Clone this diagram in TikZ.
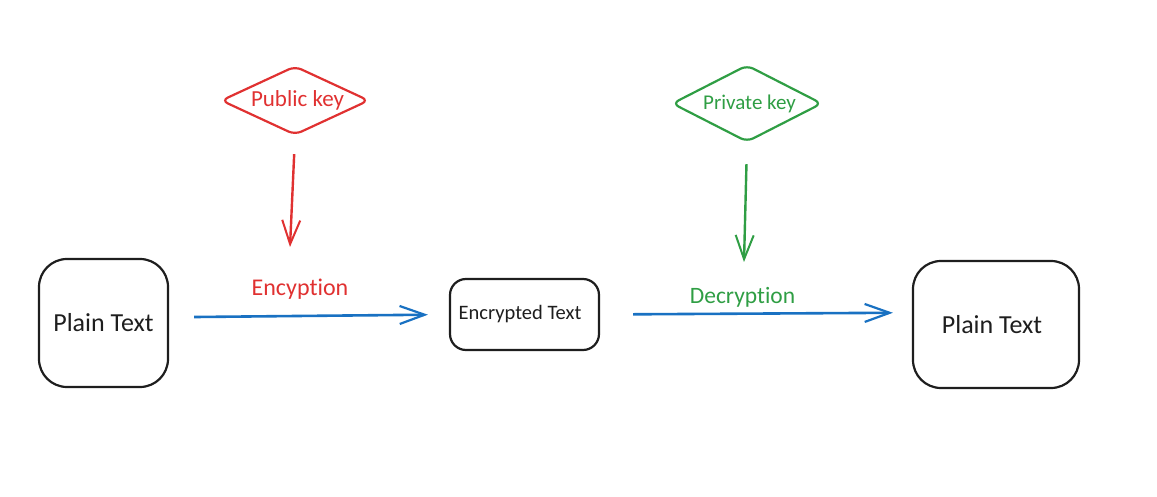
\documentclass[tikz,border=0pt]{standalone}
\usepackage{fontspec}
\setmainfont{Carlito}[Ligatures=NoCommon]
\usetikzlibrary{arrows.meta,shapes.geometric}
\definecolor{inkblack}{HTML}{1E1E1E}
\definecolor{inkred}{HTML}{E03131}
\definecolor{inkgreen}{HTML}{2F9E44}
\definecolor{inkblue}{HTML}{1971C2}
\newcommand{\fsz}[1]{\fontsize{#1}{#1}\selectfont}

\begin{document}
\begin{tikzpicture}[
    x=1pt, y=-1pt,
    punkt/.style={rectangle, draw=inkblack, text=inkblack, line width=2.2pt,
      inner sep=0pt, text centered},
    keyd/.style={diamond, aspect=2.1, rounded corners=7pt, line width=2.2pt,
      inner sep=0pt, text centered},
    lbl/.style={inner sep=0pt, text centered},
    linet/.style={line width=2.6pt, draw=inkblue,
      -{Straight Barb[length=25pt,width=18pt,line width=2.2pt]}},
    linek/.style={line width=2.4pt,
      -{Straight Barb[length=24pt,width=18pt,line width=2pt]}}
  ]
  \useasboundingbox (0,0) rectangle (1157,497);
  \path (103.5,323) node(a) [punkt, minimum width=129pt, minimum height=128pt,
      rounded corners=28pt] {\raisebox{1pt}{\fsz{26}Plain Text}}

  (524.5,314.5) node(b) [punkt, minimum width=149pt, minimum height=71pt,
      rounded corners=16pt] {\fsz{20.5}Encrypted Text\kern9pt}

  (996,324.5) node(c) [punkt, minimum width=166pt, minimum height=127pt,
      rounded corners=28pt] {\raisebox{1pt}{\fsz{26}Plain Text}\kern8pt}

  (295,100.5) node(pub) [keyd, draw=inkred, text=inkred, minimum width=148pt,
      minimum height=69pt] {\kern5pt\fsz{23}Public key}

  (747,103.5) node(priv) [keyd, draw=inkgreen, text=inkgreen, minimum width=150pt,
      minimum height=77pt] {\kern5pt\fsz{21}Private key}

  (300,289) node(enc) [lbl, text=inkred] {\fsz{24}Encyption}
  (742.5,297) node(dec) [lbl, text=inkgreen] {\fsz{23.5}Decryption};

  \coordinate (pubtip) at (290,247);
  \coordinate (privtip) at (744,262);

  \draw[linek, draw=inkred, shorten <=18pt] (pub.south) -- (pubtip);
  \draw[linek, draw=inkgreen, shorten <=21pt] (priv.south) -- (privtip);
  \draw[linet, shorten <=25pt, shorten >=21pt] (a.5) -- (b.west);
  \draw[linet, shorten <=33pt, shorten >=19pt] (b.east) -- (c.172);
\end{tikzpicture}
\end{document}
